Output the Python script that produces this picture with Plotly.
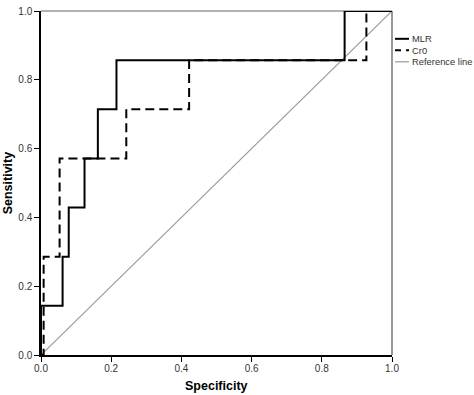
import plotly.graph_objects as go

# ROC coordinates (x = 1 - specificity, labelled "Specificity" in the source; y = sensitivity)
mlr_x = [0.0, 0.0, 0.0615, 0.0615, 0.079, 0.079, 0.124, 0.124, 0.162, 0.162, 0.215, 0.215, 0.865, 0.865, 1.0]
mlr_y = [0.0, 1/7, 1/7, 2/7, 2/7, 3/7, 3/7, 4/7, 4/7, 5/7, 5/7, 6/7, 6/7, 1.0, 1.0]

cr0_x = [0.0, 0.0075, 0.0075, 0.053, 0.053, 0.243, 0.243, 0.422, 0.422, 0.927, 0.927, 1.0]
cr0_y = [0.0, 0.0, 2/7, 2/7, 4/7, 4/7, 5/7, 5/7, 6/7, 6/7, 1.0, 1.0]

ref_x = [0.0, 1.0]
ref_y = [0.0, 1.0]

tick_vals = [0.0, 0.2, 0.4, 0.6, 0.8, 1.0]
tick_text = ["0.0", "0.2", "0.4", "0.6", "0.8", "1.0"]

FONT = "Liberation Sans, Arial, sans-serif"

fig = go.Figure()
fig.add_trace(go.Scatter(x=ref_x, y=ref_y, mode="lines", name="Reference line",
                         line=dict(color="#9a9a9a", width=1.2), showlegend=False))
fig.add_trace(go.Scatter(x=cr0_x, y=cr0_y, mode="lines", name="Cr0",
                         line=dict(color="black", width=2, dash="9px,5px"), showlegend=False))
fig.add_trace(go.Scatter(x=mlr_x, y=mlr_y, mode="lines", name="MLR",
                         line=dict(color="black", width=2), showlegend=False))

axis_common = dict(range=[0, 1], tickvals=tick_vals, ticktext=tick_text,
                   showgrid=False, zeroline=False, showline=True, linecolor="black",
                   linewidth=1.5, ticks="outside", ticklen=5, tickwidth=1.2, tickcolor="black",
                   ticklabeloverflow="allow",
                   tickfont=dict(family=FONT, size=10, color="#333333"))

fig.update_layout(
    width=474, height=395,
    margin=dict(l=41, r=82, t=5, b=40),
    paper_bgcolor="white", plot_bgcolor="white",
    xaxis=dict(**axis_common, ticklabelstandoff=-2),
    yaxis=dict(**axis_common),
    showlegend=False,
)

# frame: top (gray) and right (dark gray)
fig.add_shape(type="line", xref="paper", yref="paper", x0=0, x1=1, y0=1, y1=1,
              line=dict(color="#999999", width=1.5), layer="below")
fig.add_shape(type="line", xref="paper", yref="paper", x0=1, x1=1, y0=0, y1=1,
              line=dict(color="#555555", width=1.2), layer="below")

# axis titles
fig.add_annotation(text="<b>Specificity</b>", xref="paper", yref="paper", x=0.5, y=-0.0906,
                   showarrow=False, font=dict(family=FONT, size=12.5, color="black"),
                   xanchor="center", yanchor="middle")
fig.add_annotation(text="<b>Sensitivity</b>", xref="paper", yref="paper", x=-0.093, y=0.5,
                   showarrow=False, textangle=-90, font=dict(family=FONT, size=12.5, color="black"),
                   xanchor="center", yanchor="middle")

# legend (manual, to match small line samples)
legend_items = [("MLR", "solid", "black", 2), ("Cr0", "6px,5px", "black", 2), ("Reference line", "solid", "#9a9a9a", 1.2)]
lx0 = (395 - 41) / 351
lx1 = (409 - 41) / 351
ltext = (410 - 41) / 351
for i, (lab, dash, col, w) in enumerate(legend_items):
    ypix = 33.3 + i * 11.7
    yp = (355 - ypix) / 350
    fig.add_shape(type="line", xref="paper", yref="paper", x0=lx0, x1=lx1, y0=yp, y1=yp,
                  line=dict(color=col, width=w, dash=dash))
    fig.add_annotation(text=lab, xref="paper", yref="paper", x=ltext, y=yp, showarrow=False,
                       xanchor="left", yanchor="middle",
                       font=dict(family=FONT, size=9.4, color="#333333"))

fig.write_html("out.html", config={"displayModeBar": False},
               post_script="document.body.style.margin='0';document.body.style.overflow='hidden';")
